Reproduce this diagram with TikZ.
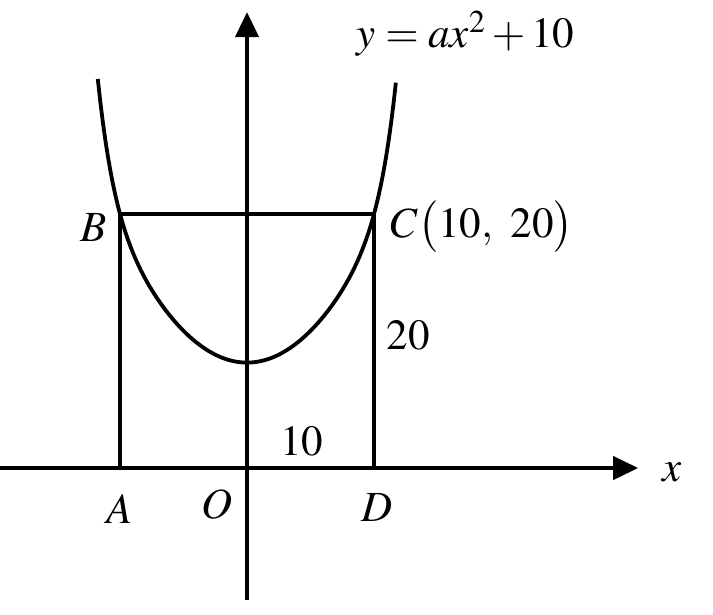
\documentclass[tikz,border=0pt]{standalone}
\usepackage{mathptmx}
\usetikzlibrary{arrows.meta}

\begin{document}
\begin{tikzpicture}[x=6.35pt,y=6.35pt,
  axis/.style={line width=2pt,-{Triangle[length=12.5pt,width=11.5pt]}},
  edge/.style={line width=1.9pt},
  lbl/.style={font=\fontsize{21.5}{25}\selectfont,inner sep=0pt}]
  \useasboundingbox (-19.45,-11.5) rectangle (36.69,36.85);
  \coordinate (A) at (-10,0);
  \coordinate (B) at (-10,20);
  \coordinate (C) at (10,20);
  \coordinate (D) at (10,0);
  \coordinate (xl) at (-19.45,0);
  \coordinate (xr) at (30.8,0);
  \coordinate (yb) at (0,-10.4);
  \coordinate (yt) at (0,35.9);
  \draw[axis] (xl) -- (xr);%<- x axis
  \draw[axis] (yb) -- (yt);%<- y axis
  \draw[edge] (A) -- (B) -- (C) -- (D);
  \draw[edge,line join=round,samples=120,domain=-11.75:11.72]%<- the curve
    plot (\x,{8.3+0.1*\x*\x+1.7*(\x/10)^10});
  \node[lbl] (eq) at (17.2,34.2) {$y = ax^2 + 10$};
  \node[lbl] (lB) at (-12.1,18.9) {$B$};
  \node[lbl,anchor=west] (lC) at (11.3,19) {$C\big(10,\ 20\big)$};
  \node[lbl] (h) at (12.7,10.4) {$20$};
  \node[lbl] (w) at (4.3,2.1) {$10$};
  \node[lbl] (lA) at (-10,-3.2) {$A$};
  \node[lbl] (lO) at (-2.4,-2.9) {$O$};
  \node[lbl] (lD) at (10.2,-3.1) {$D$};
  \node[lbl] (lx) at (33.5,-0.35) {$x$};
\end{tikzpicture}
\end{document}
